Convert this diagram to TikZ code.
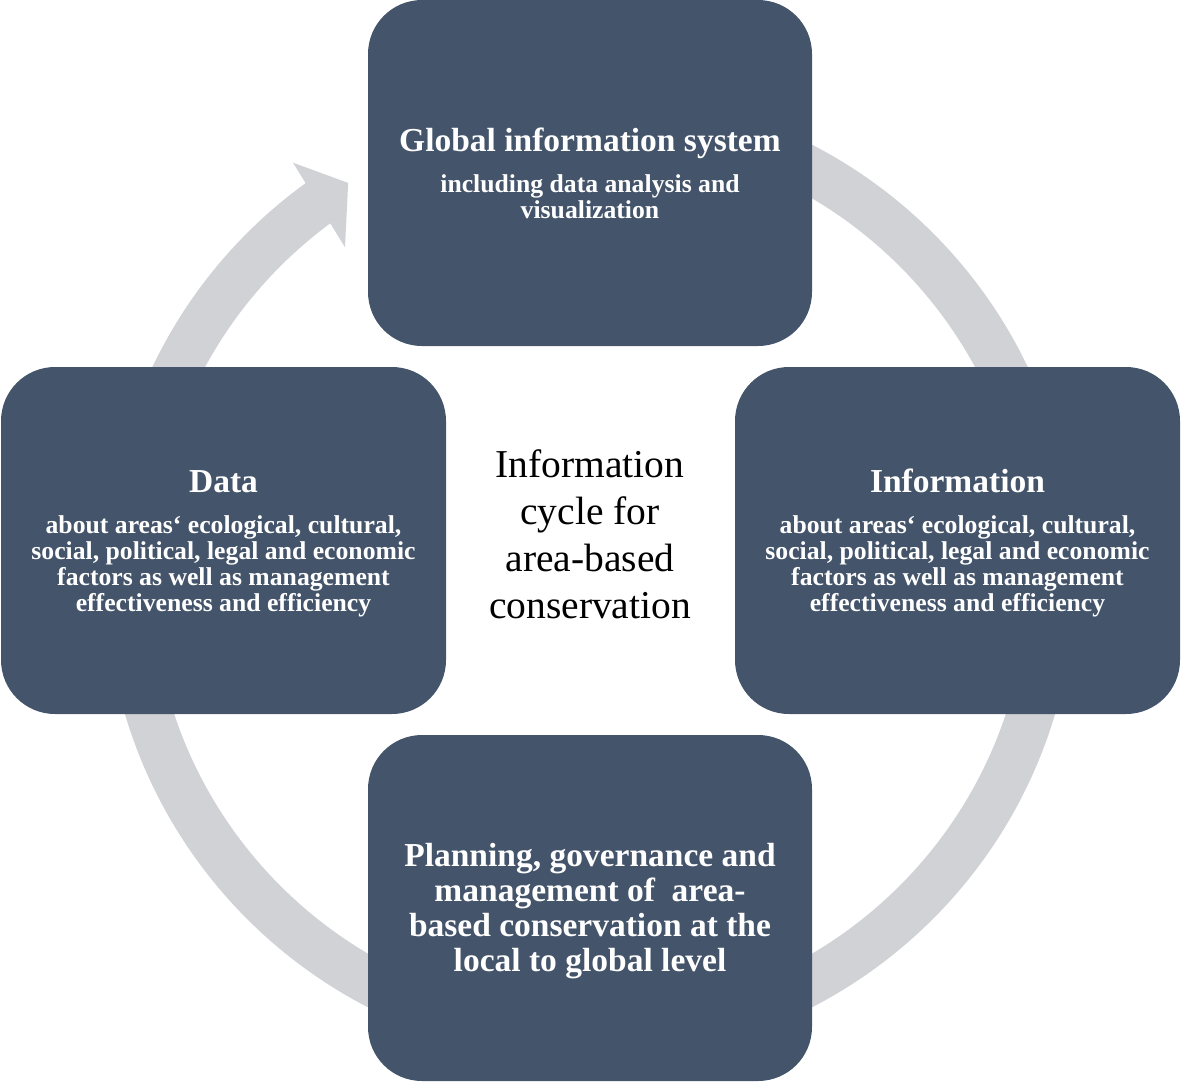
\documentclass[tikz,border=0pt]{standalone}
\usepackage{fontspec}
\setmainfont{Liberation Serif}
\usetikzlibrary{calc}
\definecolor{boxblue}{HTML}{44546A}
\definecolor{ringgrey}{HTML}{D0D2D6}
\tikzset{
  cyclebox/.style={draw=none, fill=boxblue, rounded corners=54pt, inner sep=0pt,
    minimum width=444pt, minimum height=346pt, text=white, align=flush center,
    text width=436pt, font=\bfseries\fontsize{25.7}{26}\selectfont},
  ringline/.style={draw=ringgrey, line width=47pt},
  centertext/.style={align=flush center, text width=320pt, inner sep=0pt, text=black,
    font=\fontsize{39.5}{47}\selectfont}
}
\newcommand{\boxtitle}{\fontsize{33.5}{26}\selectfont}
\newcommand{\lift}{\rule{0pt}{29pt}}
\begin{document}
\begin{tikzpicture}[x=1pt,y=-1pt]
\useasboundingbox (0,0) rectangle (1181,1082);
\coordinate (c) at (590,576);
% ring with arrow
\draw[ringline] ($(c)+(-90:461.5)$) arc[start angle=-90, end angle=234.2, radius=461.5];
\fill[ringgrey] ($(c)+(233.3:410)$) -- ($(c)+(238.4:461.5)$) -- ($(c)+(234.3:509)$) -- cycle;
% boxes
\node[cyclebox] (gis) at (590,173)
  {{\boxtitle Global information system}\\[15pt]including data analysis and\\visualization};
\node[cyclebox, minimum width=445pt, minimum height=347pt] (data) at (223.5,540.5)
  {{\boxtitle\lift Data}\\[15pt]about areas‘ ecological, cultural,\\social, political, legal and economic\\factors as well as management\\effectiveness and efficiency};
\node[cyclebox, minimum width=445pt, minimum height=347pt] (info) at (957.5,540.5)
  {{\boxtitle\lift Information}\\[15pt]about areas‘ ecological, cultural,\\social, political, legal and economic\\factors as well as management\\effectiveness and efficiency};
\node[cyclebox, font=\bfseries\fontsize{33.5}{35}\selectfont] (plan) at (590,908)
  {\lift Planning, governance and\\management of~ area-\\based conservation at the\\local to global level};
% centre label
\node[centertext] (centre) at (590,534)
  {Information\\cycle for\\area-based\\conservation};
\end{tikzpicture}
\end{document}
